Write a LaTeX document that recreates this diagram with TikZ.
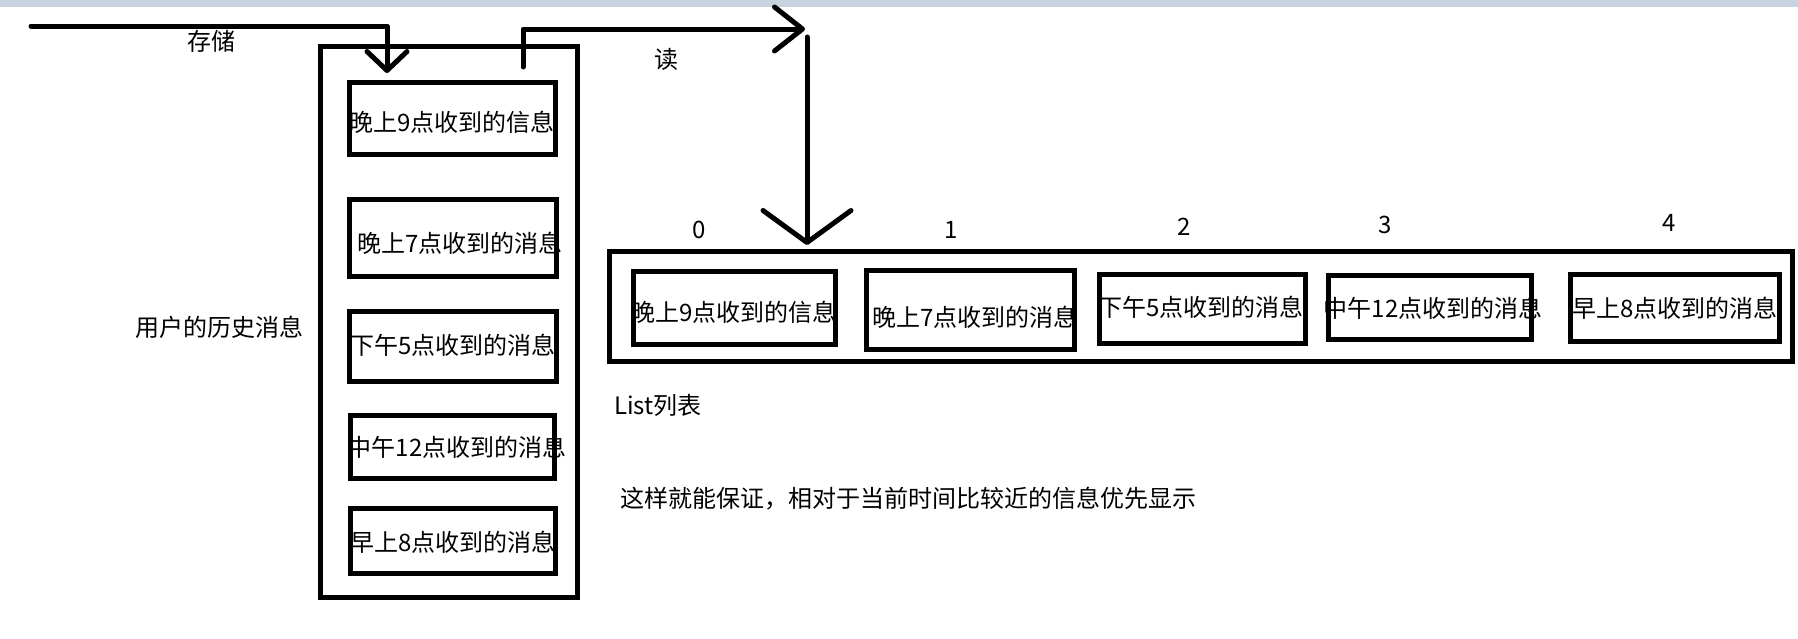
\documentclass[tikz,border=0pt]{standalone}
\usepackage{fontspec}
\setmainfont{Noto Sans CJK SC}
\usetikzlibrary{arrows.meta}
\definecolor{barcol}{RGB}{201,211,224}
\begin{document}
\begin{tikzpicture}[x=0.5pt,y=-0.5pt,
  frame/.style={draw, line width=2.5pt, inner sep=0pt},
  txt/.style={inner sep=0pt, font=\fontsize{12pt}{14pt}\selectfont},
  wire/.style={line width=2.5pt, line cap=round, line join=round}]
\useasboundingbox (0,0) rectangle (1798,638);
\fill[white] (0,0) rectangle (1798,638);
\fill[barcol] (0,0) rectangle (1798,7);

% left container
\node[frame, minimum width=128.5pt, minimum height=275.25pt] (hist) at (449,321.75) {};
\node[frame, minimum width=103pt, minimum height=36pt] (h1) at (452.5,118.5) {};
\node[frame, minimum width=103.5pt, minimum height=38.5pt] (h2) at (453,238) {};
\node[frame, minimum width=103.5pt, minimum height=35pt] (h3) at (453,346.5) {};
\node[frame, minimum width=102pt, minimum height=31.5pt] (h4) at (452.5,447) {};
\node[frame, minimum width=102.5pt, minimum height=32.5pt] (h5) at (453,541) {};
\node[txt] (th1) at (452,122) {晚上9点收到的信息};
\node[txt] (th2) at (460,243) {晚上7点收到的消息};
\node[txt] (th3) at (453,345) {下午5点收到的消息};
\node[txt] (th4) at (457,447) {中午12点收到的消息};
\node[txt] (th5) at (453,542) {早上8点收到的消息};

% list container
\node[frame, minimum width=591.25pt, minimum height=55.25pt] (list) at (1200.75,306.25) {};
\node[frame, minimum width=101pt, minimum height=36.5pt] (l1) at (734.5,308) {};
\node[frame, minimum width=104pt, minimum height=39.5pt] (l2) at (970.5,310) {};
\node[frame, minimum width=103pt, minimum height=34.5pt] (l3) at (1202.5,309) {};
\node[frame, minimum width=101.5pt, minimum height=32pt] (l4) at (1430,307.5) {};
\node[frame, minimum width=104.5pt, minimum height=33.5pt] (l5) at (1675,308) {};
\node[txt] (tl1) at (734,312) {晚上9点收到的信息};
\node[txt] (tl2) at (975,317) {晚上7点收到的消息};
\node[txt] (tl3) at (1201,307) {下午5点收到的消息};
\node[txt] (tl4) at (1433,308) {中午12点收到的消息};
\node[txt] (tl5) at (1675,308) {早上8点收到的消息};

% indices
\node[txt] (i0) at (699,230) {0};
\node[txt] (i1) at (951,230) {1};
\node[txt] (i2) at (1184,227) {2};
\node[txt] (i3) at (1385,225) {3};
\node[txt] (i4) at (1669,223) {4};

% labels
\node[txt] (store) at (211,41) {存储};
\node[txt] (read) at (666,59) {读};
\node[txt] (histlbl) at (219,327) {用户的历史消息};
\node[txt] (listlbl) at (658,405) {List列表};
\node[txt, anchor=west] (note) at (620,499) {这样就能保证，相对于当前时间比较近的信息优先显示};

% connectors
\coordinate (sstart) at (31,26);
\coordinate (sbend) at (387,26);
\coordinate (stip) at (387,73);
\coordinate (rstart) at (523,67);
\coordinate (rbend) at (523,29);
\coordinate (rtip) at (805,29);
\coordinate (dstart) at (807,37);
\coordinate (dtip) at (807,245);
\draw[wire, -{Straight Barb[length=9.5pt, width=20pt, round]}] (sstart) -- (sbend) -- (stip);
\draw[wire, -{Straight Barb[length=14pt, width=22pt, round]}] (rstart) -- (rbend) -- (rtip);
\draw[wire, -{Straight Barb[length=16pt, width=44pt, round]}] (dstart) -- (dtip);
\end{tikzpicture}
\end{document}
